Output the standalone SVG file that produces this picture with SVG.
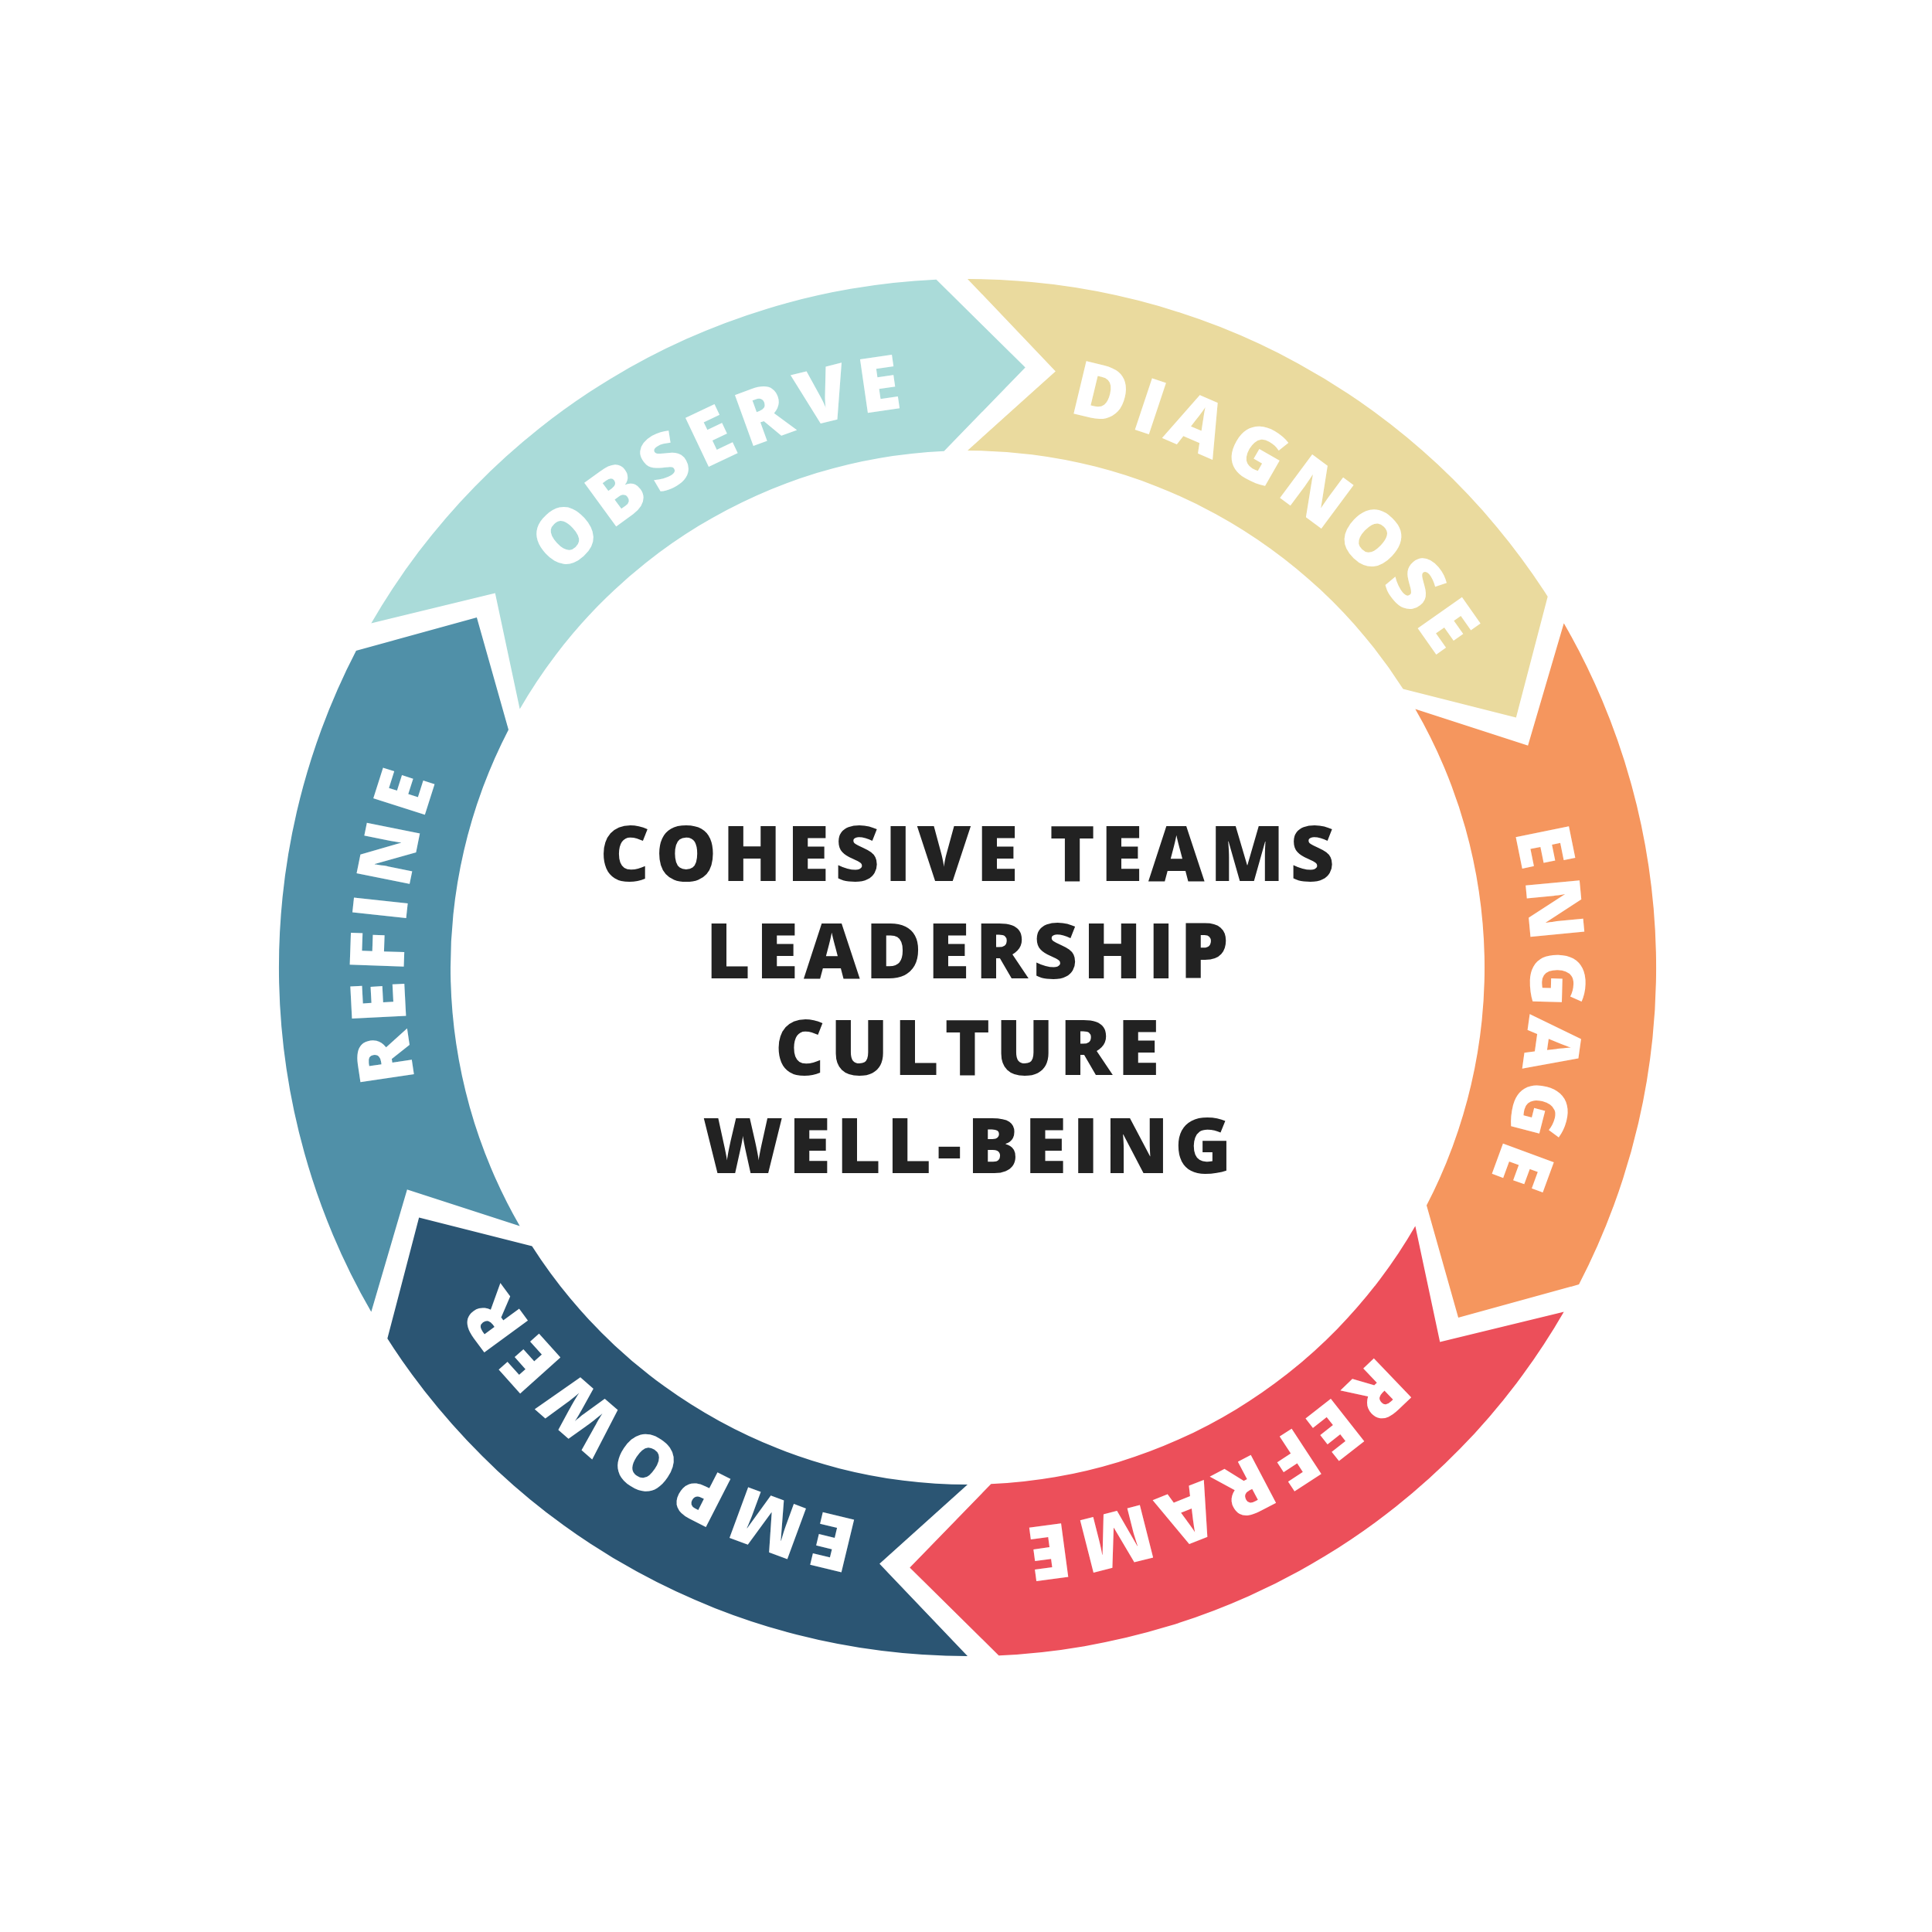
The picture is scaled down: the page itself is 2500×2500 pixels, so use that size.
<svg xmlns="http://www.w3.org/2000/svg" xmlns:xlink="http://www.w3.org/1999/xlink" width="2500" height="2500" viewBox="0 0 2500 2500">
<style>
.lbl{font-family:"Open Sans","DejaVu Sans",sans-serif;font-weight:800;font-size:98px;fill:#fff;letter-spacing:10px}
.ctr{font-family:"Open Sans","DejaVu Sans",sans-serif;font-weight:800;font-size:100px;fill:#222;text-anchor:middle;letter-spacing:7px}
</style>
<defs>
<path id="seg" d="M891,0 A891,891 0 0 1 480.1,750.7 L323.5,709.8 L360.5,563.6 A669,669 0 0 0 669,0 L771.6,113.9 Z"/>
<path id="ring" d="M729,0 A729,729 0 1 1 -729,0 A729,729 0 1 1 729,0 A729,729 0 1 1 -729,0 A729,729 0 1 1 729,0"/>
</defs>
<rect width="2500" height="2500" fill="#fff"/>
<g transform="translate(1252,1252)">
<g id="observe"><use href="#seg" transform="rotate(-150)" fill="#aadbd9"/><text class="lbl" text-anchor="middle"><textPath href="#ring" startOffset="33.9%">OBSERVE</textPath></text></g>
<g id="diagnose"><use href="#seg" transform="rotate(-90)" fill="#eada9e"/><text class="lbl" text-anchor="middle"><textPath href="#ring" startOffset="42.2%">DIAGNOSE</textPath></text></g>
<g id="engage"><use href="#seg" transform="rotate(-30)" fill="#f5965e"/><text class="lbl" text-anchor="middle"><textPath href="#ring" startOffset="50.6%">ENGAGE</textPath></text></g>
<g id="reframe"><use href="#seg" transform="rotate(30)" fill="#ec4f5a"/><text class="lbl" text-anchor="middle"><textPath href="#ring" startOffset="8.9%">REFRAME</textPath></text></g>
<g id="empower"><use href="#seg" transform="rotate(90)" fill="#2b5573"/><text class="lbl" text-anchor="middle"><textPath href="#ring" startOffset="17.2%">EMPOWER</textPath></text></g>
<g id="refine"><use href="#seg" transform="rotate(150)" fill="#5090a8"/><text class="lbl" text-anchor="middle"><textPath href="#ring" startOffset="25.6%">REFINE</textPath></text></g>
</g>
<g id="center">
<text class="ctr" x="1255" y="1140">COHESIVE TEAMS</text>
<text class="ctr" x="1255" y="1266">LEADERSHIP</text>
<text class="ctr" x="1255" y="1391">CULTURE</text>
<text class="ctr" x="1255" y="1518">WELL-BEING</text>
</g>
<g id="connectors"/>
</svg>
